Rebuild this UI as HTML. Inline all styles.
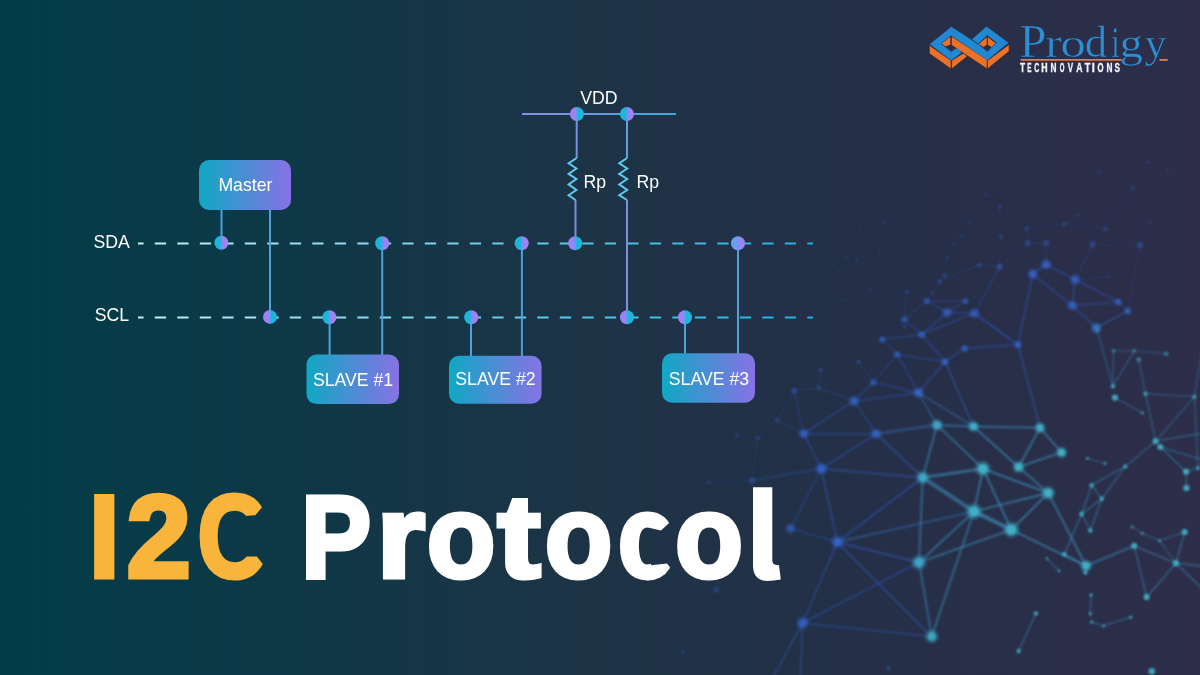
<!DOCTYPE html>
<html><head><meta charset="utf-8"><title>I2C Protocol</title>
<style>
html,body{margin:0;padding:0;}
body{width:1200px;height:675px;overflow:hidden;position:relative;
background:linear-gradient(90deg,#013d47 0%,#0f3847 25%,#1d3346 50%,#262f48 75%,#2e2e4a 100%);
font-family:"Liberation Sans",sans-serif;}
svg{position:absolute;left:0;top:0;will-change:transform;}
</style></head>
<body>
<svg width="1200" height="675" viewBox="0 0 1200 675">
<defs>
<linearGradient id="box" x1="0" y1="0" x2="1" y2="0">
<stop offset="0" stop-color="#10a8c4"/><stop offset="1" stop-color="#8772e4"/></linearGradient>
<linearGradient id="dash" gradientUnits="userSpaceOnUse" x1="138" y1="0" x2="813" y2="0">
<stop offset="0" stop-color="#c4eef6"/><stop offset="1" stop-color="#1cb0e0"/></linearGradient>
<linearGradient id="vdd" gradientUnits="userSpaceOnUse" x1="522" y1="0" x2="676" y2="0">
<stop offset="0" stop-color="#8d8ce6"/><stop offset="1" stop-color="#3aa8d8"/></linearGradient>
<linearGradient id="dCP" x1="0" y1="0" x2="1" y2="0">
<stop offset="0.4" stop-color="#1bb6da"/><stop offset="0.5" stop-color="#4aa4ee"/><stop offset="0.6" stop-color="#9e82f4"/></linearGradient>
<linearGradient id="dPC" x1="0" y1="0" x2="1" y2="0">
<stop offset="0.4" stop-color="#9e82f4"/><stop offset="0.5" stop-color="#4aa4ee"/><stop offset="0.6" stop-color="#1bb6da"/></linearGradient>
<linearGradient id="dBP" x1="0" y1="0" x2="1" y2="0">
<stop offset="0" stop-color="#5aa8f0"/><stop offset="1" stop-color="#a080f2"/></linearGradient>
<filter id="soft" x="-5%" y="-5%" width="110%" height="110%"><feGaussianBlur stdDeviation="0.8"/></filter>
</defs>

<g id="network" filter="url(#soft)">
<line x1="803.7" y1="433.7" x2="876.2" y2="433.7" stroke="rgb(48, 88, 189)" stroke-opacity="0.41" stroke-width="2.0"/>
<line x1="876.2" y1="433.7" x2="937" y2="424.9" stroke="rgb(54, 114, 185)" stroke-opacity="0.45" stroke-width="2.6"/>
<line x1="876.2" y1="433.7" x2="854" y2="401" stroke="rgb(48, 88, 189)" stroke-opacity="0.41" stroke-width="2.0"/>
<line x1="876.2" y1="433.7" x2="922.7" y2="477.6" stroke="rgb(51, 105, 187)" stroke-opacity="0.45" stroke-width="2.0"/>
<line x1="803.7" y1="433.7" x2="854" y2="401" stroke="rgb(48, 88, 189)" stroke-opacity="0.41" stroke-width="2.0"/>
<line x1="803.7" y1="433.7" x2="821.4" y2="468.6" stroke="rgb(48, 88, 189)" stroke-opacity="0.41" stroke-width="2.0"/>
<line x1="821.4" y1="468.6" x2="922.7" y2="477.6" stroke="rgb(48, 88, 189)" stroke-opacity="0.45" stroke-width="2.2"/>
<line x1="821.4" y1="468.6" x2="876.2" y2="433.7" stroke="rgb(48, 88, 189)" stroke-opacity="0.45" stroke-width="2.0"/>
<line x1="854" y1="401" x2="873.3" y2="382.4" stroke="rgb(48, 88, 189)" stroke-opacity="0.38" stroke-width="2.0"/>
<line x1="854" y1="401" x2="918.6" y2="392.8" stroke="rgb(48, 88, 189)" stroke-opacity="0.41" stroke-width="2.0"/>
<line x1="873.3" y1="382.4" x2="918.6" y2="392.8" stroke="rgb(48, 88, 189)" stroke-opacity="0.38" stroke-width="2.0"/>
<line x1="918.6" y1="392.8" x2="937" y2="424.9" stroke="rgb(53, 113, 186)" stroke-opacity="0.45" stroke-width="2.0"/>
<line x1="897" y1="354.6" x2="918.6" y2="392.8" stroke="rgb(48, 88, 189)" stroke-opacity="0.38" stroke-width="2.0"/>
<line x1="897" y1="354.6" x2="873.3" y2="382.4" stroke="rgb(48, 88, 189)" stroke-opacity="0.38" stroke-width="1.35"/>
<line x1="882.2" y1="339.5" x2="897" y2="354.6" stroke="rgb(48, 88, 189)" stroke-opacity="0.34" stroke-width="1.35"/>
<line x1="921.6" y1="334.4" x2="945" y2="361.7" stroke="rgb(48, 88, 189)" stroke-opacity="0.41" stroke-width="2.0"/>
<line x1="897" y1="354.6" x2="945" y2="361.7" stroke="rgb(48, 88, 189)" stroke-opacity="0.38" stroke-width="2.0"/>
<line x1="794.2" y1="390.7" x2="803.7" y2="433.7" stroke="rgb(48, 88, 189)" stroke-opacity="0.26" stroke-width="2.0"/>
<line x1="777" y1="420.3" x2="803.7" y2="433.7" stroke="rgb(48, 88, 189)" stroke-opacity="0.19" stroke-width="2.0"/>
<line x1="757.8" y1="438.1" x2="777" y2="420.3" stroke="rgb(48, 88, 189)" stroke-opacity="0.19" stroke-width="1.35"/>
<line x1="737" y1="435.2" x2="757.8" y2="438.1" stroke="rgb(48, 88, 189)" stroke-opacity="0.15" stroke-width="1.35"/>
<line x1="751.8" y1="480.5" x2="821.4" y2="468.6" stroke="rgb(48, 88, 189)" stroke-opacity="0.22" stroke-width="2.0"/>
<line x1="708.9" y1="482.5" x2="751.8" y2="480.5" stroke="rgb(48, 88, 189)" stroke-opacity="0.15" stroke-width="1.35"/>
<line x1="818.5" y1="387.8" x2="854" y2="401" stroke="rgb(48, 88, 189)" stroke-opacity="0.22" stroke-width="2.0"/>
<line x1="820.9" y1="370" x2="818.5" y2="387.8" stroke="rgb(48, 88, 189)" stroke-opacity="0.22" stroke-width="1.35"/>
<line x1="858.5" y1="361.7" x2="873.3" y2="382.4" stroke="rgb(48, 88, 189)" stroke-opacity="0.22" stroke-width="1.35"/>
<line x1="794.2" y1="390.7" x2="818.5" y2="387.8" stroke="rgb(48, 88, 189)" stroke-opacity="0.22" stroke-width="1.35"/>
<line x1="777" y1="420.3" x2="794.2" y2="390.7" stroke="rgb(48, 88, 189)" stroke-opacity="0.19" stroke-width="1.35"/>
<line x1="757.8" y1="438.1" x2="751.8" y2="480.5" stroke="rgb(48, 88, 189)" stroke-opacity="0.19" stroke-width="1.35"/>
<line x1="937" y1="424.9" x2="973.5" y2="426.4" stroke="rgb(58, 134, 182)" stroke-opacity="0.60" stroke-width="2.0"/>
<line x1="973.5" y1="426.4" x2="1040" y2="427.8" stroke="rgb(58, 135, 182)" stroke-opacity="0.64" stroke-width="2.0"/>
<line x1="1040" y1="427.8" x2="1061.6" y2="452.4" stroke="rgb(59, 139, 182)" stroke-opacity="0.64" stroke-width="2.0"/>
<line x1="1040" y1="427.8" x2="1018.6" y2="467" stroke="rgb(59, 139, 182)" stroke-opacity="0.64" stroke-width="2.0"/>
<line x1="1040" y1="427.8" x2="1018" y2="344.8" stroke="rgb(48, 91, 189)" stroke-opacity="0.45" stroke-width="2.0"/>
<line x1="1018.6" y1="467" x2="1061.6" y2="452.4" stroke="rgb(59, 139, 182)" stroke-opacity="0.64" stroke-width="2.0"/>
<line x1="1018.6" y1="467" x2="973.5" y2="426.4" stroke="rgb(59, 139, 182)" stroke-opacity="0.64" stroke-width="2.0"/>
<line x1="1018.6" y1="467" x2="1048.3" y2="493" stroke="rgb(59, 139, 182)" stroke-opacity="0.64" stroke-width="2.0"/>
<line x1="983" y1="468.7" x2="1048.3" y2="493" stroke="rgb(59, 139, 182)" stroke-opacity="0.68" stroke-width="2.0"/>
<line x1="922.7" y1="477.6" x2="983" y2="468.7" stroke="rgb(59, 139, 182)" stroke-opacity="0.60" stroke-width="3.0"/>
<line x1="922.7" y1="477.6" x2="974" y2="511.4" stroke="rgb(59, 139, 182)" stroke-opacity="0.60" stroke-width="4.0"/>
<line x1="974" y1="511.4" x2="1011.3" y2="529.7" stroke="rgb(59, 139, 182)" stroke-opacity="0.68" stroke-width="4.0"/>
<line x1="983" y1="468.7" x2="974" y2="511.4" stroke="rgb(59, 139, 182)" stroke-opacity="0.68" stroke-width="2.0"/>
<line x1="983" y1="468.7" x2="1011.3" y2="529.7" stroke="rgb(59, 139, 182)" stroke-opacity="0.68" stroke-width="2.0"/>
<line x1="937" y1="424.9" x2="922.7" y2="477.6" stroke="rgb(59, 137, 182)" stroke-opacity="0.60" stroke-width="2.0"/>
<line x1="937" y1="424.9" x2="983" y2="468.7" stroke="rgb(59, 139, 182)" stroke-opacity="0.60" stroke-width="2.0"/>
<line x1="918.6" y1="392.8" x2="973.5" y2="426.4" stroke="rgb(54, 116, 185)" stroke-opacity="0.45" stroke-width="2.0"/>
<line x1="945" y1="361.7" x2="918.6" y2="392.8" stroke="rgb(48, 89, 189)" stroke-opacity="0.45" stroke-width="2.0"/>
<line x1="945" y1="361.7" x2="973.5" y2="426.4" stroke="rgb(49, 95, 188)" stroke-opacity="0.45" stroke-width="2.0"/>
<line x1="945" y1="361.7" x2="964.6" y2="348.4" stroke="rgb(48, 88, 189)" stroke-opacity="0.41" stroke-width="2.0"/>
<line x1="964.6" y1="348.4" x2="1018" y2="344.8" stroke="rgb(48, 88, 189)" stroke-opacity="0.41" stroke-width="2.0"/>
<line x1="1048.3" y1="493" x2="974" y2="511.4" stroke="rgb(59, 139, 182)" stroke-opacity="0.68" stroke-width="2.0"/>
<line x1="1048.3" y1="493" x2="1086" y2="565.8" stroke="rgb(59, 139, 182)" stroke-opacity="0.64" stroke-width="2.0"/>
<line x1="837.3" y1="542.1" x2="790.5" y2="528.6" stroke="rgb(48, 88, 189)" stroke-opacity="0.34" stroke-width="2.0"/>
<line x1="837.3" y1="542.1" x2="919" y2="562.4" stroke="rgb(48, 89, 189)" stroke-opacity="0.49" stroke-width="2.4"/>
<line x1="837.3" y1="542.1" x2="931.8" y2="636.6" stroke="rgb(48, 91, 189)" stroke-opacity="0.49" stroke-width="2.0"/>
<line x1="837.3" y1="542.1" x2="802.6" y2="623" stroke="rgb(48, 88, 189)" stroke-opacity="0.41" stroke-width="2.0"/>
<line x1="821.4" y1="468.6" x2="837.3" y2="542.1" stroke="rgb(48, 88, 189)" stroke-opacity="0.45" stroke-width="2.0"/>
<line x1="837.3" y1="542.1" x2="922.7" y2="477.6" stroke="rgb(48, 90, 189)" stroke-opacity="0.49" stroke-width="2.0"/>
<line x1="802.6" y1="623" x2="919" y2="562.4" stroke="rgb(48, 88, 189)" stroke-opacity="0.41" stroke-width="2.0"/>
<line x1="802.6" y1="623" x2="931.8" y2="636.6" stroke="rgb(48, 88, 189)" stroke-opacity="0.41" stroke-width="2.0"/>
<line x1="919" y1="562.4" x2="931.8" y2="636.6" stroke="rgb(59, 136, 182)" stroke-opacity="0.56" stroke-width="2.0"/>
<line x1="919" y1="562.4" x2="922.7" y2="477.6" stroke="rgb(58, 133, 182)" stroke-opacity="0.60" stroke-width="2.0"/>
<line x1="919" y1="562.4" x2="974" y2="511.4" stroke="rgb(59, 139, 182)" stroke-opacity="0.60" stroke-width="2.0"/>
<line x1="931.8" y1="636.6" x2="974" y2="511.4" stroke="rgb(59, 139, 182)" stroke-opacity="0.56" stroke-width="2.0"/>
<line x1="790.5" y1="528.6" x2="821.4" y2="468.6" stroke="rgb(48, 88, 189)" stroke-opacity="0.34" stroke-width="2.0"/>
<line x1="837.3" y1="542.1" x2="974" y2="511.4" stroke="rgb(54, 115, 185)" stroke-opacity="0.49" stroke-width="2.0"/>
<line x1="1011.3" y1="529.7" x2="1048.3" y2="493" stroke="rgb(59, 139, 182)" stroke-opacity="0.68" stroke-width="2.0"/>
<line x1="1011.3" y1="529.7" x2="919" y2="562.4" stroke="rgb(59, 139, 182)" stroke-opacity="0.60" stroke-width="2.0"/>
<line x1="1011.3" y1="529.7" x2="1086" y2="565.8" stroke="rgb(59, 139, 182)" stroke-opacity="0.64" stroke-width="2.0"/>
<line x1="1064.3" y1="554.5" x2="1086" y2="565.8" stroke="rgb(59, 139, 182)" stroke-opacity="0.60" stroke-width="2.0"/>
<line x1="1064.3" y1="554.5" x2="1081.6" y2="514" stroke="rgb(59, 139, 182)" stroke-opacity="0.60" stroke-width="1.35"/>
<line x1="1081.6" y1="514" x2="1091.7" y2="485.2" stroke="rgb(59, 139, 182)" stroke-opacity="0.60" stroke-width="1.35"/>
<line x1="1091.7" y1="485.2" x2="1101.8" y2="498.8" stroke="rgb(59, 139, 182)" stroke-opacity="0.60" stroke-width="1.35"/>
<line x1="1101.8" y1="498.8" x2="1090.3" y2="530.5" stroke="rgb(59, 139, 182)" stroke-opacity="0.60" stroke-width="1.35"/>
<line x1="1081.6" y1="514" x2="1101.8" y2="498.8" stroke="rgb(59, 139, 182)" stroke-opacity="0.60" stroke-width="1.35"/>
<line x1="1081.6" y1="514" x2="1090.3" y2="530.5" stroke="rgb(59, 139, 182)" stroke-opacity="0.60" stroke-width="1.35"/>
<line x1="1086" y1="565.8" x2="1134.2" y2="545.8" stroke="rgb(59, 139, 182)" stroke-opacity="0.60" stroke-width="2.0"/>
<line x1="1047" y1="558.5" x2="1059" y2="571" stroke="rgb(59, 139, 182)" stroke-opacity="0.45" stroke-width="1.35"/>
<line x1="1134.2" y1="545.8" x2="1146.6" y2="597" stroke="rgb(59, 139, 182)" stroke-opacity="0.60" stroke-width="1.35"/>
<line x1="1134.2" y1="545.8" x2="1176" y2="563.2" stroke="rgb(59, 139, 182)" stroke-opacity="0.60" stroke-width="1.35"/>
<line x1="1146.6" y1="597" x2="1176" y2="563.2" stroke="rgb(59, 139, 182)" stroke-opacity="0.60" stroke-width="1.35"/>
<line x1="1176" y1="563.2" x2="1184.7" y2="532" stroke="rgb(59, 139, 182)" stroke-opacity="0.60" stroke-width="1.35"/>
<line x1="1159.6" y1="540.6" x2="1184.7" y2="532" stroke="rgb(59, 139, 182)" stroke-opacity="0.45" stroke-width="1.35"/>
<line x1="1132.1" y1="526.8" x2="1142.2" y2="533.4" stroke="rgb(59, 139, 182)" stroke-opacity="0.45" stroke-width="1.35"/>
<line x1="1142.2" y1="533.4" x2="1159.6" y2="540.6" stroke="rgb(59, 139, 182)" stroke-opacity="0.45" stroke-width="1.35"/>
<line x1="1159.6" y1="540.6" x2="1176" y2="563.2" stroke="rgb(59, 139, 182)" stroke-opacity="0.45" stroke-width="1.35"/>
<line x1="1091.1" y1="595" x2="1090.3" y2="613.7" stroke="rgb(59, 139, 182)" stroke-opacity="0.52" stroke-width="1.35"/>
<line x1="1091.7" y1="622" x2="1103.8" y2="625.8" stroke="rgb(59, 139, 182)" stroke-opacity="0.52" stroke-width="1.35"/>
<line x1="1103.8" y1="625.8" x2="1130.7" y2="617.2" stroke="rgb(59, 139, 182)" stroke-opacity="0.52" stroke-width="1.35"/>
<line x1="1036" y1="613.4" x2="1018.7" y2="651" stroke="rgb(59, 139, 182)" stroke-opacity="0.56" stroke-width="1.35"/>
<line x1="1097.2" y1="330.6" x2="1112.9" y2="386.3" stroke="rgb(58, 131, 183)" stroke-opacity="0.45" stroke-width="1.35"/>
<line x1="1113.5" y1="350.8" x2="1112.9" y2="386.3" stroke="rgb(59, 135, 182)" stroke-opacity="0.45" stroke-width="1.35"/>
<line x1="1134.2" y1="350.8" x2="1112.9" y2="386.3" stroke="rgb(59, 136, 182)" stroke-opacity="0.45" stroke-width="1.35"/>
<line x1="1113.5" y1="350.8" x2="1134.2" y2="350.8" stroke="rgb(57, 128, 183)" stroke-opacity="0.45" stroke-width="1.35"/>
<line x1="1134.2" y1="350.8" x2="1166.2" y2="353.7" stroke="rgb(57, 129, 183)" stroke-opacity="0.41" stroke-width="1.35"/>
<line x1="1138.7" y1="359.6" x2="1145.5" y2="393.7" stroke="rgb(59, 138, 182)" stroke-opacity="0.45" stroke-width="1.35"/>
<line x1="1145.5" y1="393.7" x2="1155.6" y2="441.2" stroke="rgb(59, 139, 182)" stroke-opacity="0.52" stroke-width="1.35"/>
<line x1="1145.5" y1="393.7" x2="1194.4" y2="396.7" stroke="rgb(59, 139, 182)" stroke-opacity="0.45" stroke-width="1.35"/>
<line x1="1155.6" y1="441.2" x2="1194.4" y2="396.7" stroke="rgb(59, 139, 182)" stroke-opacity="0.45" stroke-width="1.35"/>
<line x1="1155.6" y1="441.2" x2="1125.3" y2="466.4" stroke="rgb(59, 139, 182)" stroke-opacity="0.52" stroke-width="1.35"/>
<line x1="1125.3" y1="466.4" x2="1091.7" y2="485.2" stroke="rgb(59, 139, 182)" stroke-opacity="0.52" stroke-width="1.35"/>
<line x1="1125.3" y1="466.4" x2="1101.8" y2="498.8" stroke="rgb(59, 139, 182)" stroke-opacity="0.52" stroke-width="1.35"/>
<line x1="1087.4" y1="458.4" x2="1105.2" y2="463.4" stroke="rgb(59, 139, 182)" stroke-opacity="0.45" stroke-width="1.35"/>
<line x1="1115" y1="397.6" x2="1142.5" y2="413" stroke="rgb(59, 139, 182)" stroke-opacity="0.45" stroke-width="1.35"/>
<line x1="1186.1" y1="471.7" x2="1186.4" y2="488" stroke="rgb(59, 139, 182)" stroke-opacity="0.60" stroke-width="1.35"/>
<line x1="1186.1" y1="471.7" x2="1198" y2="468" stroke="rgb(59, 139, 182)" stroke-opacity="0.45" stroke-width="1.35"/>
<line x1="1160.3" y1="447.1" x2="1186.1" y2="471.7" stroke="rgb(59, 139, 182)" stroke-opacity="0.60" stroke-width="1.35"/>
<line x1="1032.7" y1="274.1" x2="1046.2" y2="264.4" stroke="rgb(48, 88, 189)" stroke-opacity="0.45" stroke-width="2.0"/>
<line x1="1032.7" y1="274.1" x2="1018" y2="344.8" stroke="rgb(48, 88, 189)" stroke-opacity="0.45" stroke-width="2.0"/>
<line x1="1032.7" y1="274.1" x2="1072.2" y2="305.6" stroke="rgb(48, 88, 189)" stroke-opacity="0.41" stroke-width="2.0"/>
<line x1="1046.2" y1="264.4" x2="1075" y2="279.7" stroke="rgb(48, 88, 189)" stroke-opacity="0.41" stroke-width="2.0"/>
<line x1="974.5" y1="313.3" x2="1018" y2="344.8" stroke="rgb(48, 88, 189)" stroke-opacity="0.38" stroke-width="2.0"/>
<line x1="974.5" y1="313.3" x2="999.7" y2="266.8" stroke="rgb(48, 88, 189)" stroke-opacity="0.30" stroke-width="2.0"/>
<line x1="974.5" y1="313.3" x2="947.1" y2="312.5" stroke="rgb(48, 88, 189)" stroke-opacity="0.38" stroke-width="2.0"/>
<line x1="947.1" y1="312.5" x2="926.8" y2="301" stroke="rgb(48, 88, 189)" stroke-opacity="0.34" stroke-width="2.0"/>
<line x1="947.1" y1="312.5" x2="965.5" y2="301" stroke="rgb(48, 88, 189)" stroke-opacity="0.34" stroke-width="2.0"/>
<line x1="926.8" y1="301" x2="965.5" y2="301" stroke="rgb(48, 88, 189)" stroke-opacity="0.34" stroke-width="1.35"/>
<line x1="926.8" y1="301" x2="904.4" y2="319.4" stroke="rgb(48, 88, 189)" stroke-opacity="0.34" stroke-width="1.35"/>
<line x1="904.4" y1="319.4" x2="921.6" y2="334.4" stroke="rgb(48, 88, 189)" stroke-opacity="0.34" stroke-width="2.0"/>
<line x1="921.6" y1="334.4" x2="947.1" y2="312.5" stroke="rgb(48, 88, 189)" stroke-opacity="0.38" stroke-width="2.0"/>
<line x1="921.6" y1="334.4" x2="974.5" y2="313.3" stroke="rgb(48, 88, 189)" stroke-opacity="0.38" stroke-width="2.0"/>
<line x1="921.6" y1="334.4" x2="882.2" y2="339.5" stroke="rgb(48, 88, 189)" stroke-opacity="0.34" stroke-width="2.0"/>
<line x1="904.4" y1="319.4" x2="906.8" y2="291.2" stroke="rgb(48, 88, 189)" stroke-opacity="0.22" stroke-width="1.35"/>
<line x1="906.8" y1="291.2" x2="926.8" y2="301" stroke="rgb(48, 88, 189)" stroke-opacity="0.22" stroke-width="1.35"/>
<line x1="926.8" y1="301" x2="939.8" y2="281.5" stroke="rgb(48, 88, 189)" stroke-opacity="0.26" stroke-width="1.35"/>
<line x1="939.8" y1="281.5" x2="947.1" y2="258.7" stroke="rgb(48, 88, 189)" stroke-opacity="0.13" stroke-width="1.35"/>
<line x1="947.1" y1="258.7" x2="953.3" y2="243.6" stroke="rgb(48, 88, 189)" stroke-opacity="0.13" stroke-width="1.35"/>
<line x1="953.3" y1="243.6" x2="961.3" y2="236.7" stroke="rgb(48, 88, 189)" stroke-opacity="0.13" stroke-width="1.35"/>
<line x1="961.3" y1="236.7" x2="969.6" y2="221.6" stroke="rgb(48, 88, 189)" stroke-opacity="0.11" stroke-width="1.35"/>
<line x1="999.7" y1="266.8" x2="1001" y2="236.7" stroke="rgb(48, 88, 189)" stroke-opacity="0.16" stroke-width="1.35"/>
<line x1="1001" y1="236.7" x2="999.7" y2="206.9" stroke="rgb(48, 88, 189)" stroke-opacity="0.13" stroke-width="1.35"/>
<line x1="999.7" y1="206.9" x2="986.3" y2="194.7" stroke="rgb(48, 88, 189)" stroke-opacity="0.11" stroke-width="1.35"/>
<line x1="999.7" y1="266.8" x2="1027.8" y2="243.1" stroke="rgb(48, 88, 189)" stroke-opacity="0.18" stroke-width="1.35"/>
<line x1="939.8" y1="281.5" x2="979.4" y2="265.1" stroke="rgb(48, 88, 189)" stroke-opacity="0.26" stroke-width="1.35"/>
<line x1="979.4" y1="265.1" x2="999.7" y2="266.8" stroke="rgb(48, 88, 189)" stroke-opacity="0.26" stroke-width="1.35"/>
<line x1="1027.8" y1="243.1" x2="1026.6" y2="228.4" stroke="rgb(48, 88, 189)" stroke-opacity="0.16" stroke-width="1.35"/>
<line x1="1027.8" y1="243.1" x2="1046.2" y2="243.1" stroke="rgb(48, 88, 189)" stroke-opacity="0.18" stroke-width="1.35"/>
<line x1="1046.2" y1="243.1" x2="1046.2" y2="264.4" stroke="rgb(48, 88, 189)" stroke-opacity="0.18" stroke-width="2.0"/>
<line x1="1026.6" y1="228.4" x2="1064.5" y2="224" stroke="rgb(48, 88, 189)" stroke-opacity="0.16" stroke-width="1.35"/>
<line x1="1075" y1="279.7" x2="1072.2" y2="305.6" stroke="rgb(48, 88, 189)" stroke-opacity="0.41" stroke-width="2.0"/>
<line x1="1072.2" y1="305.6" x2="1096.3" y2="327.8" stroke="rgb(49, 94, 188)" stroke-opacity="0.41" stroke-width="2.0"/>
<line x1="1075" y1="279.7" x2="1118.5" y2="301.9" stroke="rgb(48, 89, 189)" stroke-opacity="0.41" stroke-width="2.0"/>
<line x1="1118.5" y1="301.9" x2="1127.8" y2="311" stroke="rgb(49, 92, 189)" stroke-opacity="0.41" stroke-width="1.35"/>
<line x1="1127.8" y1="311" x2="1096.3" y2="327.8" stroke="rgb(50, 98, 188)" stroke-opacity="0.41" stroke-width="2.0"/>
<line x1="1072.2" y1="305.6" x2="1118.5" y2="301.9" stroke="rgb(48, 91, 189)" stroke-opacity="0.41" stroke-width="2.0"/>
<line x1="1092.6" y1="244.4" x2="1075" y2="279.7" stroke="rgb(48, 88, 189)" stroke-opacity="0.18" stroke-width="2.0"/>
<line x1="1105.6" y1="229" x2="1092.6" y2="244.4" stroke="rgb(48, 88, 189)" stroke-opacity="0.16" stroke-width="1.35"/>
<line x1="1105.6" y1="229" x2="1064.5" y2="224" stroke="rgb(48, 88, 189)" stroke-opacity="0.16" stroke-width="1.35"/>
<line x1="1140" y1="245.2" x2="1092.6" y2="244.4" stroke="rgb(48, 88, 189)" stroke-opacity="0.18" stroke-width="1.35"/>
<line x1="1140" y1="245.2" x2="1127.8" y2="311" stroke="rgb(48, 88, 189)" stroke-opacity="0.18" stroke-width="1.35"/>
<line x1="1064.5" y1="224" x2="1077.8" y2="215.6" stroke="rgb(48, 88, 189)" stroke-opacity="0.13" stroke-width="1.35"/>
<line x1="1105.6" y1="229" x2="1133" y2="187.8" stroke="rgb(48, 88, 189)" stroke-opacity="0.13" stroke-width="1.35"/>
<line x1="1133" y1="187.8" x2="1140" y2="245.2" stroke="rgb(48, 88, 189)" stroke-opacity="0.13" stroke-width="1.35"/>
<line x1="1147.8" y1="162.4" x2="1167.4" y2="170.5" stroke="rgb(48, 88, 189)" stroke-opacity="0.11" stroke-width="1.35"/>
<line x1="1098.9" y1="172.2" x2="1105.6" y2="229" stroke="rgb(48, 88, 189)" stroke-opacity="0.11" stroke-width="1.35"/>
<line x1="1149.4" y1="222.7" x2="1140" y2="245.2" stroke="rgb(48, 88, 189)" stroke-opacity="0.11" stroke-width="1.35"/>
<line x1="1108.7" y1="276.5" x2="1075" y2="279.7" stroke="rgb(48, 88, 189)" stroke-opacity="0.13" stroke-width="2.0"/>
<line x1="883.6" y1="222" x2="880" y2="250" stroke="rgb(48, 88, 189)" stroke-opacity="0.07" stroke-width="1.35"/>
<line x1="856.7" y1="260.7" x2="846.9" y2="257.7" stroke="rgb(48, 88, 189)" stroke-opacity="0.06" stroke-width="1.35"/>
<line x1="846.9" y1="257.7" x2="838.3" y2="271.7" stroke="rgb(48, 88, 189)" stroke-opacity="0.06" stroke-width="1.35"/>
<line x1="838.3" y1="271.7" x2="827.3" y2="272.9" stroke="rgb(48, 88, 189)" stroke-opacity="0.06" stroke-width="1.35"/>
<line x1="856.7" y1="260.7" x2="880" y2="250" stroke="rgb(48, 88, 189)" stroke-opacity="0.07" stroke-width="1.35"/>
<line x1="860" y1="230" x2="856.7" y2="260.7" stroke="rgb(48, 88, 189)" stroke-opacity="0.06" stroke-width="1.35"/>
<line x1="845" y1="300" x2="870" y2="290" stroke="rgb(48, 88, 189)" stroke-opacity="0.06" stroke-width="1.35"/>
<line x1="870" y1="290" x2="906.8" y2="291.2" stroke="rgb(48, 88, 189)" stroke-opacity="0.07" stroke-width="1.35"/>
<line x1="830" y1="330" x2="845" y2="300" stroke="rgb(48, 88, 189)" stroke-opacity="0.06" stroke-width="1.35"/>
<line x1="810" y1="300" x2="830" y2="330" stroke="rgb(48, 88, 189)" stroke-opacity="0.04" stroke-width="1.35"/>
<line x1="882.3" y1="340.1" x2="882.2" y2="339.5" stroke="rgb(48, 88, 189)" stroke-opacity="0.11" stroke-width="1.35"/>
<line x1="882.3" y1="340.1" x2="904.4" y2="319.4" stroke="rgb(48, 88, 189)" stroke-opacity="0.11" stroke-width="1.35"/>
<line x1="1018" y1="344.8" x2="974.5" y2="313.3" stroke="rgb(48, 88, 189)" stroke-opacity="0.38" stroke-width="2.0"/>
<line x1="1194.4" y1="396.7" x2="1198" y2="468" stroke="rgb(59, 139, 182)" stroke-opacity="0.45" stroke-width="1.35"/>
<line x1="1176" y1="563.2" x2="1210" y2="596" stroke="rgb(59, 139, 182)" stroke-opacity="0.60" stroke-width="1.35"/>
<line x1="1176" y1="563.2" x2="1210" y2="567" stroke="rgb(59, 139, 182)" stroke-opacity="0.60" stroke-width="1.35"/>
<line x1="1155.6" y1="441.2" x2="1210" y2="432" stroke="rgb(59, 139, 182)" stroke-opacity="0.60" stroke-width="1.35"/>
<line x1="1160.3" y1="447.1" x2="1210" y2="462" stroke="rgb(59, 139, 182)" stroke-opacity="0.60" stroke-width="1.35"/>
<line x1="1194.4" y1="396.7" x2="1210" y2="300" stroke="rgb(57, 127, 183)" stroke-opacity="0.45" stroke-width="1.35"/>
<line x1="821.4" y1="468.6" x2="751.8" y2="480.5" stroke="rgb(48, 88, 189)" stroke-opacity="0.22" stroke-width="2.0"/>
<line x1="802.6" y1="623" x2="766" y2="690" stroke="rgb(48, 88, 189)" stroke-opacity="0.41" stroke-width="2.0"/>
<line x1="802.6" y1="623" x2="800" y2="690" stroke="rgb(48, 88, 189)" stroke-opacity="0.41" stroke-width="2.0"/>
<circle cx="803.7" cy="433.7" r="6.00" fill="rgb(55, 105, 214)" fill-opacity="0.19"/>
<circle cx="803.7" cy="433.7" r="3.75" fill="rgb(55, 105, 214)" fill-opacity="0.63"/>
<circle cx="876.2" cy="433.7" r="6.00" fill="rgb(55, 106, 214)" fill-opacity="0.21"/>
<circle cx="876.2" cy="433.7" r="3.75" fill="rgb(55, 106, 214)" fill-opacity="0.69"/>
<circle cx="937" cy="424.9" r="6.40" fill="rgb(64, 167, 200)" fill-opacity="0.28"/>
<circle cx="937" cy="424.9" r="4.00" fill="rgb(64, 167, 200)" fill-opacity="0.92"/>
<circle cx="854" cy="401" r="6.00" fill="rgb(55, 105, 214)" fill-opacity="0.19"/>
<circle cx="854" cy="401" r="3.75" fill="rgb(55, 105, 214)" fill-opacity="0.63"/>
<circle cx="873.3" cy="382.4" r="3.25" fill="rgb(55, 105, 214)" fill-opacity="0.57"/>
<circle cx="918.6" cy="392.8" r="6.00" fill="rgb(56, 112, 213)" fill-opacity="0.21"/>
<circle cx="918.6" cy="392.8" r="3.75" fill="rgb(56, 112, 213)" fill-opacity="0.69"/>
<circle cx="897" cy="354.6" r="3.25" fill="rgb(55, 105, 214)" fill-opacity="0.57"/>
<circle cx="882.2" cy="339.5" r="3.25" fill="rgb(55, 105, 214)" fill-opacity="0.52"/>
<circle cx="921.6" cy="334.4" r="3.50" fill="rgb(55, 105, 214)" fill-opacity="0.63"/>
<circle cx="945" cy="361.7" r="3.50" fill="rgb(55, 105, 214)" fill-opacity="0.69"/>
<circle cx="858.5" cy="361.7" r="2.20" fill="rgb(55, 105, 214)" fill-opacity="0.34"/>
<circle cx="820.9" cy="370" r="2.20" fill="rgb(55, 105, 214)" fill-opacity="0.34"/>
<circle cx="818.5" cy="387.8" r="2.20" fill="rgb(55, 105, 214)" fill-opacity="0.34"/>
<circle cx="794.2" cy="390.7" r="3.00" fill="rgb(55, 105, 214)" fill-opacity="0.40"/>
<circle cx="777" cy="420.3" r="2.20" fill="rgb(55, 105, 214)" fill-opacity="0.29"/>
<circle cx="757.8" cy="438.1" r="2.20" fill="rgb(55, 105, 214)" fill-opacity="0.29"/>
<circle cx="737" cy="435.2" r="2.20" fill="rgb(55, 105, 214)" fill-opacity="0.23"/>
<circle cx="821.4" cy="468.6" r="7.00" fill="rgb(55, 105, 214)" fill-opacity="0.21"/>
<circle cx="821.4" cy="468.6" r="4.38" fill="rgb(55, 105, 214)" fill-opacity="0.69"/>
<circle cx="922.7" cy="477.6" r="7.20" fill="rgb(64, 168, 199)" fill-opacity="0.28"/>
<circle cx="922.7" cy="477.6" r="4.50" fill="rgb(64, 168, 199)" fill-opacity="0.92"/>
<circle cx="751.8" cy="480.5" r="3.25" fill="rgb(55, 105, 214)" fill-opacity="0.34"/>
<circle cx="708.9" cy="482.5" r="2.20" fill="rgb(55, 105, 214)" fill-opacity="0.23"/>
<circle cx="790.5" cy="528.6" r="6.00" fill="rgb(55, 105, 214)" fill-opacity="0.16"/>
<circle cx="790.5" cy="528.6" r="3.75" fill="rgb(55, 105, 214)" fill-opacity="0.52"/>
<circle cx="837.3" cy="542.1" r="7.20" fill="rgb(55, 105, 214)" fill-opacity="0.23"/>
<circle cx="837.3" cy="542.1" r="4.50" fill="rgb(55, 105, 214)" fill-opacity="0.75"/>
<circle cx="919" cy="562.4" r="8.00" fill="rgb(64, 165, 200)" fill-opacity="0.28"/>
<circle cx="919" cy="562.4" r="5.00" fill="rgb(64, 165, 200)" fill-opacity="0.92"/>
<circle cx="802.6" cy="623" r="7.20" fill="rgb(55, 105, 214)" fill-opacity="0.19"/>
<circle cx="802.6" cy="623" r="4.50" fill="rgb(55, 105, 214)" fill-opacity="0.63"/>
<circle cx="931.8" cy="636.6" r="7.20" fill="rgb(65, 173, 198)" fill-opacity="0.26"/>
<circle cx="931.8" cy="636.6" r="4.50" fill="rgb(65, 173, 198)" fill-opacity="0.86"/>
<circle cx="888.4" cy="668.4" r="1.65" fill="rgb(56, 112, 213)" fill-opacity="0.57"/>
<circle cx="964.6" cy="348.4" r="3.25" fill="rgb(55, 105, 214)" fill-opacity="0.63"/>
<circle cx="1018" cy="344.8" r="3.50" fill="rgb(55, 105, 214)" fill-opacity="0.69"/>
<circle cx="973.5" cy="426.4" r="6.00" fill="rgb(64, 169, 199)" fill-opacity="0.30"/>
<circle cx="973.5" cy="426.4" r="3.75" fill="rgb(64, 169, 199)" fill-opacity="0.98"/>
<circle cx="1040" cy="427.8" r="6.00" fill="rgb(65, 170, 199)" fill-opacity="0.30"/>
<circle cx="1040" cy="427.8" r="3.75" fill="rgb(65, 170, 199)" fill-opacity="0.98"/>
<circle cx="1061.6" cy="452.4" r="6.00" fill="rgb(65, 175, 198)" fill-opacity="0.30"/>
<circle cx="1061.6" cy="452.4" r="3.75" fill="rgb(65, 175, 198)" fill-opacity="0.98"/>
<circle cx="1018.6" cy="467" r="6.40" fill="rgb(65, 175, 198)" fill-opacity="0.30"/>
<circle cx="1018.6" cy="467" r="4.00" fill="rgb(65, 175, 198)" fill-opacity="0.98"/>
<circle cx="983" cy="468.7" r="8.00" fill="rgb(65, 175, 198)" fill-opacity="0.32"/>
<circle cx="983" cy="468.7" r="5.00" fill="rgb(65, 175, 198)" fill-opacity="1.00"/>
<circle cx="1048.3" cy="493" r="7.20" fill="rgb(65, 175, 198)" fill-opacity="0.32"/>
<circle cx="1048.3" cy="493" r="4.50" fill="rgb(65, 175, 198)" fill-opacity="1.00"/>
<circle cx="974" cy="511.4" r="8.40" fill="rgb(65, 175, 198)" fill-opacity="0.32"/>
<circle cx="974" cy="511.4" r="5.25" fill="rgb(65, 175, 198)" fill-opacity="1.00"/>
<circle cx="1011.3" cy="529.7" r="8.40" fill="rgb(65, 175, 198)" fill-opacity="0.32"/>
<circle cx="1011.3" cy="529.7" r="5.25" fill="rgb(65, 175, 198)" fill-opacity="1.00"/>
<circle cx="1091.7" cy="485.2" r="2.20" fill="rgb(65, 175, 198)" fill-opacity="0.92"/>
<circle cx="1101.8" cy="498.8" r="2.20" fill="rgb(65, 175, 198)" fill-opacity="0.92"/>
<circle cx="1081.6" cy="514" r="2.42" fill="rgb(65, 175, 198)" fill-opacity="0.92"/>
<circle cx="1090.3" cy="530.5" r="2.20" fill="rgb(65, 175, 198)" fill-opacity="0.92"/>
<circle cx="1064.3" cy="554.5" r="2.42" fill="rgb(65, 175, 198)" fill-opacity="0.92"/>
<circle cx="1086" cy="565.8" r="6.40" fill="rgb(65, 175, 198)" fill-opacity="0.30"/>
<circle cx="1086" cy="565.8" r="4.00" fill="rgb(65, 175, 198)" fill-opacity="0.98"/>
<circle cx="1085.4" cy="572.4" r="2.20" fill="rgb(65, 175, 198)" fill-opacity="0.92"/>
<circle cx="1047" cy="558.5" r="1.54" fill="rgb(65, 175, 198)" fill-opacity="0.69"/>
<circle cx="1059" cy="571" r="1.54" fill="rgb(65, 175, 198)" fill-opacity="0.69"/>
<circle cx="1134.2" cy="545.8" r="3.12" fill="rgb(65, 175, 198)" fill-opacity="0.92"/>
<circle cx="1132.1" cy="526.8" r="1.54" fill="rgb(65, 175, 198)" fill-opacity="0.69"/>
<circle cx="1142.2" cy="533.4" r="1.54" fill="rgb(65, 175, 198)" fill-opacity="0.69"/>
<circle cx="1159.6" cy="540.6" r="1.65" fill="rgb(65, 175, 198)" fill-opacity="0.69"/>
<circle cx="1184.7" cy="532" r="3.12" fill="rgb(65, 175, 198)" fill-opacity="0.92"/>
<circle cx="1176" cy="563.2" r="3.12" fill="rgb(65, 175, 198)" fill-opacity="0.92"/>
<circle cx="1146.6" cy="597" r="3.12" fill="rgb(65, 175, 198)" fill-opacity="0.92"/>
<circle cx="1091.1" cy="595" r="1.76" fill="rgb(65, 175, 198)" fill-opacity="0.80"/>
<circle cx="1090.3" cy="613.7" r="1.76" fill="rgb(65, 175, 198)" fill-opacity="0.80"/>
<circle cx="1091.7" cy="622" r="1.65" fill="rgb(65, 175, 198)" fill-opacity="0.80"/>
<circle cx="1103.8" cy="625.8" r="1.65" fill="rgb(65, 175, 198)" fill-opacity="0.80"/>
<circle cx="1130.7" cy="617.2" r="1.65" fill="rgb(65, 175, 198)" fill-opacity="0.80"/>
<circle cx="1036" cy="613.4" r="2.20" fill="rgb(65, 175, 198)" fill-opacity="0.86"/>
<circle cx="1018.7" cy="651" r="2.20" fill="rgb(65, 175, 198)" fill-opacity="0.86"/>
<circle cx="1151.8" cy="671.2" r="3.25" fill="rgb(65, 175, 198)" fill-opacity="0.92"/>
<circle cx="1186.4" cy="488" r="3.12" fill="rgb(65, 175, 198)" fill-opacity="0.92"/>
<circle cx="1113.5" cy="350.8" r="1.76" fill="rgb(63, 159, 201)" fill-opacity="0.69"/>
<circle cx="1134.2" cy="350.8" r="1.76" fill="rgb(63, 160, 201)" fill-opacity="0.69"/>
<circle cx="1166.2" cy="353.7" r="2.20" fill="rgb(64, 163, 200)" fill-opacity="0.63"/>
<circle cx="1138.7" cy="359.6" r="2.20" fill="rgb(64, 167, 199)" fill-opacity="0.69"/>
<circle cx="1097.2" cy="330.6" r="2.20" fill="rgb(59, 131, 208)" fill-opacity="0.69"/>
<circle cx="1112.9" cy="386.3" r="2.20" fill="rgb(65, 173, 198)" fill-opacity="0.86"/>
<circle cx="1115" cy="397.6" r="3.12" fill="rgb(65, 174, 198)" fill-opacity="0.92"/>
<circle cx="1145.5" cy="393.7" r="2.20" fill="rgb(65, 175, 198)" fill-opacity="0.80"/>
<circle cx="1142.5" cy="413" r="1.65" fill="rgb(65, 175, 198)" fill-opacity="0.69"/>
<circle cx="1194.4" cy="396.7" r="2.20" fill="rgb(65, 175, 198)" fill-opacity="0.69"/>
<circle cx="1155.6" cy="441.2" r="3.00" fill="rgb(65, 175, 198)" fill-opacity="0.92"/>
<circle cx="1160.3" cy="447.1" r="3.00" fill="rgb(65, 175, 198)" fill-opacity="0.92"/>
<circle cx="1087.4" cy="458.4" r="1.65" fill="rgb(65, 175, 198)" fill-opacity="0.69"/>
<circle cx="1105.2" cy="463.4" r="1.65" fill="rgb(65, 175, 198)" fill-opacity="0.69"/>
<circle cx="1125.3" cy="466.4" r="2.20" fill="rgb(65, 175, 198)" fill-opacity="0.80"/>
<circle cx="1186.1" cy="471.7" r="3.12" fill="rgb(65, 175, 198)" fill-opacity="0.92"/>
<circle cx="1198" cy="468" r="2.20" fill="rgb(65, 175, 198)" fill-opacity="0.69"/>
<circle cx="1032.7" cy="274.1" r="6.00" fill="rgb(55, 105, 214)" fill-opacity="0.21"/>
<circle cx="1032.7" cy="274.1" r="3.75" fill="rgb(55, 105, 214)" fill-opacity="0.69"/>
<circle cx="1046.2" cy="264.4" r="6.00" fill="rgb(55, 105, 214)" fill-opacity="0.21"/>
<circle cx="1046.2" cy="264.4" r="3.75" fill="rgb(55, 105, 214)" fill-opacity="0.69"/>
<circle cx="1027.8" cy="243.1" r="3.12" fill="rgb(55, 105, 214)" fill-opacity="0.35"/>
<circle cx="1046.2" cy="243.1" r="3.12" fill="rgb(55, 105, 214)" fill-opacity="0.35"/>
<circle cx="1026.6" cy="228.4" r="2.20" fill="rgb(55, 105, 214)" fill-opacity="0.30"/>
<circle cx="1064.5" cy="224" r="2.42" fill="rgb(55, 105, 214)" fill-opacity="0.30"/>
<circle cx="1001" cy="236.7" r="2.20" fill="rgb(55, 105, 214)" fill-opacity="0.30"/>
<circle cx="999.7" cy="206.9" r="2.20" fill="rgb(55, 105, 214)" fill-opacity="0.26"/>
<circle cx="986.3" cy="194.7" r="1.76" fill="rgb(55, 105, 214)" fill-opacity="0.22"/>
<circle cx="999.7" cy="266.8" r="3.12" fill="rgb(55, 105, 214)" fill-opacity="0.46"/>
<circle cx="979.4" cy="265.1" r="2.20" fill="rgb(55, 105, 214)" fill-opacity="0.40"/>
<circle cx="974.5" cy="313.3" r="6.00" fill="rgb(55, 105, 214)" fill-opacity="0.17"/>
<circle cx="974.5" cy="313.3" r="3.75" fill="rgb(55, 105, 214)" fill-opacity="0.57"/>
<circle cx="965.5" cy="301" r="3.12" fill="rgb(55, 105, 214)" fill-opacity="0.52"/>
<circle cx="947.1" cy="312.5" r="6.00" fill="rgb(55, 105, 214)" fill-opacity="0.17"/>
<circle cx="947.1" cy="312.5" r="3.75" fill="rgb(55, 105, 214)" fill-opacity="0.57"/>
<circle cx="926.8" cy="301" r="3.12" fill="rgb(55, 105, 214)" fill-opacity="0.52"/>
<circle cx="939.8" cy="281.5" r="2.20" fill="rgb(55, 105, 214)" fill-opacity="0.40"/>
<circle cx="944.7" cy="275.4" r="2.20" fill="rgb(55, 105, 214)" fill-opacity="0.40"/>
<circle cx="932.5" cy="293" r="1.65" fill="rgb(55, 105, 214)" fill-opacity="0.34"/>
<circle cx="904.4" cy="319.4" r="3.12" fill="rgb(55, 105, 214)" fill-opacity="0.52"/>
<circle cx="904.4" cy="326.2" r="1.65" fill="rgb(55, 105, 214)" fill-opacity="0.40"/>
<circle cx="906.8" cy="291.2" r="1.76" fill="rgb(55, 105, 214)" fill-opacity="0.34"/>
<circle cx="947.1" cy="258.7" r="1.76" fill="rgb(55, 105, 214)" fill-opacity="0.26"/>
<circle cx="961.3" cy="236.7" r="1.76" fill="rgb(55, 105, 214)" fill-opacity="0.26"/>
<circle cx="953.3" cy="243.6" r="1.76" fill="rgb(55, 105, 214)" fill-opacity="0.26"/>
<circle cx="969.6" cy="221.6" r="1.76" fill="rgb(55, 105, 214)" fill-opacity="0.22"/>
<circle cx="1075" cy="279.7" r="6.00" fill="rgb(55, 105, 214)" fill-opacity="0.19"/>
<circle cx="1075" cy="279.7" r="3.75" fill="rgb(55, 105, 214)" fill-opacity="0.63"/>
<circle cx="1072.2" cy="305.6" r="6.00" fill="rgb(55, 107, 214)" fill-opacity="0.19"/>
<circle cx="1072.2" cy="305.6" r="3.75" fill="rgb(55, 107, 214)" fill-opacity="0.63"/>
<circle cx="1118.5" cy="301.9" r="3.25" fill="rgb(55, 109, 213)" fill-opacity="0.63"/>
<circle cx="1127.8" cy="311" r="3.25" fill="rgb(56, 113, 212)" fill-opacity="0.63"/>
<circle cx="1096.3" cy="327.8" r="6.00" fill="rgb(58, 127, 209)" fill-opacity="0.21"/>
<circle cx="1096.3" cy="327.8" r="3.75" fill="rgb(58, 127, 209)" fill-opacity="0.69"/>
<circle cx="1105.6" cy="229" r="2.20" fill="rgb(55, 105, 214)" fill-opacity="0.30"/>
<circle cx="1092.6" cy="244.4" r="3.12" fill="rgb(55, 105, 214)" fill-opacity="0.35"/>
<circle cx="1140" cy="245.2" r="3.12" fill="rgb(55, 105, 214)" fill-opacity="0.35"/>
<circle cx="1077.8" cy="215.6" r="1.76" fill="rgb(55, 105, 214)" fill-opacity="0.26"/>
<circle cx="1133" cy="187.8" r="2.20" fill="rgb(55, 105, 214)" fill-opacity="0.26"/>
<circle cx="1147.8" cy="162.4" r="1.76" fill="rgb(55, 105, 214)" fill-opacity="0.22"/>
<circle cx="1167.4" cy="170.5" r="1.76" fill="rgb(55, 105, 214)" fill-opacity="0.22"/>
<circle cx="1149.4" cy="222.7" r="1.76" fill="rgb(55, 105, 214)" fill-opacity="0.22"/>
<circle cx="1098.9" cy="172.2" r="1.76" fill="rgb(55, 105, 214)" fill-opacity="0.22"/>
<circle cx="1108.7" cy="276.5" r="1.76" fill="rgb(55, 105, 214)" fill-opacity="0.26"/>
<circle cx="883.6" cy="222" r="2.20" fill="rgb(55, 105, 214)" fill-opacity="0.14"/>
<circle cx="856.7" cy="260.7" r="2.20" fill="rgb(55, 105, 214)" fill-opacity="0.14"/>
<circle cx="846.9" cy="257.7" r="1.76" fill="rgb(55, 105, 214)" fill-opacity="0.13"/>
<circle cx="838.3" cy="271.7" r="1.76" fill="rgb(55, 105, 214)" fill-opacity="0.12"/>
<circle cx="827.3" cy="272.9" r="1.76" fill="rgb(55, 105, 214)" fill-opacity="0.12"/>
<circle cx="882.3" cy="340.1" r="2.42" fill="rgb(55, 105, 214)" fill-opacity="0.24"/>
<circle cx="860" cy="230" r="1.76" fill="rgb(55, 105, 214)" fill-opacity="0.12"/>
<circle cx="880" cy="250" r="1.76" fill="rgb(55, 105, 214)" fill-opacity="0.14"/>
<circle cx="845" cy="300" r="1.76" fill="rgb(55, 105, 214)" fill-opacity="0.12"/>
<circle cx="716.3" cy="589.5" r="3.25" fill="rgb(55, 105, 214)" fill-opacity="0.28"/>
<circle cx="683" cy="652" r="2.20" fill="rgb(55, 105, 214)" fill-opacity="0.24"/>
<circle cx="870" cy="290" r="1.76" fill="rgb(55, 105, 214)" fill-opacity="0.14"/>
<circle cx="810" cy="300" r="1.76" fill="rgb(55, 105, 214)" fill-opacity="0.10"/>
<circle cx="830" cy="330" r="1.76" fill="rgb(55, 105, 214)" fill-opacity="0.12"/>
</g>

<!-- bus lines -->
<g fill="none" stroke="url(#dash)" stroke-width="2" stroke-dasharray="11.3 11.2" stroke-dashoffset="5.7">
<line x1="138" y1="243.6" x2="813" y2="243.6"/>
<line x1="138" y1="317.4" x2="813" y2="317.4"/>
</g>
<line x1="522" y1="114" x2="676" y2="114" stroke="url(#vdd)" stroke-width="2.2"/>

<!-- vertical connectors -->
<g stroke="#50a0de" stroke-width="2" fill="none">
<line x1="221.5" y1="209" x2="221.5" y2="243"/>
<line x1="270" y1="209" x2="270" y2="317"/>
<line x1="329.6" y1="317" x2="329.6" y2="356"/>
<line x1="382.2" y1="243" x2="382.2" y2="356"/>
<line x1="471" y1="317" x2="471" y2="357"/>
<line x1="521.9" y1="243" x2="521.9" y2="357"/>
<line x1="685" y1="317" x2="685" y2="354"/>
<line x1="738" y1="243" x2="738" y2="354"/>
<line x1="576.7" y1="114" x2="576.7" y2="158" stroke="#7890e0"/>
<line x1="575.5" y1="200" x2="575.5" y2="243" stroke="#7890dc"/>
<line x1="627" y1="114" x2="627" y2="158" stroke="#58a4dc"/>
<line x1="627" y1="200" x2="627" y2="317" stroke="#7a92e0"/>
</g>
<g stroke="#5ccaee" stroke-width="2" fill="none" stroke-linejoin="miter">
<polyline points="576.7,158 568.6,163.3 576.4,168.5 568.6,173.9 576.4,179 568.6,184.4 576.4,190 568.6,195.2 575.5,200"/>
<polyline points="627,158 619.2,163.3 627.2,168.5 619.2,173.9 627.2,179 619.2,184.4 627.2,190 619.2,195.2 627,200"/>
</g>

<!-- boxes -->
<rect x="199" y="160" width="92" height="50" rx="10" fill="url(#box)"/>
<rect x="306.5" y="354.6" width="92.5" height="49.5" rx="10" fill="url(#box)"/>
<rect x="449" y="355.8" width="92.6" height="48" rx="10" fill="url(#box)"/>
<rect x="662" y="353.3" width="93" height="49.4" rx="10" fill="url(#box)"/>

<!-- dots -->
<g>
<circle cx="221.4" cy="242.8" r="7" fill="url(#dCP)"/>
<circle cx="382.2" cy="243.3" r="7" fill="url(#dCP)"/>
<circle cx="521.7" cy="243.3" r="7" fill="url(#dCP)"/>
<circle cx="575.2" cy="243.3" r="7" fill="url(#dPC)"/>
<circle cx="738" cy="243.3" r="7" fill="url(#dBP)"/>
<circle cx="270" cy="316.9" r="7" fill="url(#dPC)"/>
<circle cx="329.4" cy="317.3" r="7" fill="url(#dCP)"/>
<circle cx="471.2" cy="317.3" r="7" fill="url(#dCP)"/>
<circle cx="627" cy="317.3" r="7" fill="url(#dPC)"/>
<circle cx="685" cy="317.3" r="7" fill="url(#dPC)"/>
<circle cx="576.9" cy="114" r="7" fill="url(#dPC)"/>
<circle cx="626.9" cy="114" r="7" fill="url(#dCP)"/>
</g>

<!-- small labels -->
<g font-family="Liberation Sans, sans-serif" font-size="17.7" fill="#fff">
<text x="93.5" y="247.6">SDA</text>
<text x="94.8" y="321.3">SCL</text>
<text x="218.4" y="191">Master</text>
<text x="312.9" y="385.5">SLAVE #1</text>
<text x="455.3" y="385">SLAVE #2</text>
<text x="668.8" y="384.8">SLAVE #3</text>
<text x="580.2" y="103.8">VDD</text>
<text x="583.4" y="188">Rp</text>
<text x="636.4" y="188">Rp</text>
</g>

<!-- title -->
<mask id="mC" maskUnits="userSpaceOnUse" x="180" y="470" width="110" height="130"><rect x="180" y="470" width="110" height="130" fill="#fff"/>
<polygon points="244,516 255.3,515.3 266.5,502 280,502 280,571 267.5,570 256.9,556.5 244,556.5" fill="#000"/></mask>
<mask id="mc" maskUnits="userSpaceOnUse" x="600" y="480" width="100" height="120"><rect x="600" y="480" width="100" height="120" fill="#fff"/>
<polygon points="651,528.2 661,530.5 674,518.5 690,518.5 690,574 674.5,573 667,563.5 651,565.3" fill="#000"/></mask>
<text transform="translate(89.20,576.80) scale(0.9280,1)" font-family="Liberation Sans, sans-serif" font-weight="bold" font-size="116.38" fill="#f9b43b" stroke="#f9b43b" stroke-width="5.0" stroke-linejoin="miter" stroke-miterlimit="2.5">I</text>
<text transform="translate(126.64,576.80) scale(0.9891,1)" font-family="Liberation Sans, sans-serif" font-weight="bold" font-size="116.38" fill="#f9b43b" stroke="#f9b43b" stroke-width="5.0" stroke-linejoin="miter" stroke-miterlimit="2.5">2</text>
<g mask="url(#mC)"><text transform="translate(197.82,576.80) scale(0.8249,1)" font-family="Liberation Sans, sans-serif" font-weight="bold" font-size="116.38" fill="#f9b43b" stroke="#f9b43b" stroke-width="5.0" stroke-linejoin="miter" stroke-miterlimit="2.5">C</text></g>
<text transform="translate(301.35,576.80) scale(0.8986,1)" font-family="Liberation Sans, sans-serif" font-weight="bold" font-size="116.38" fill="#ffffff" stroke="#ffffff" stroke-width="5.0" stroke-linejoin="miter" stroke-miterlimit="2.5">P</text>
<text transform="translate(376.95,576.80) scale(1.0566,1)" font-family="Liberation Sans, sans-serif" font-weight="bold" font-size="116.38" fill="#ffffff" stroke="#ffffff" stroke-width="5.0" stroke-linejoin="miter" stroke-miterlimit="2.5">r</text>
<text transform="translate(426.93,576.80) scale(0.9598,1)" font-family="Liberation Sans, sans-serif" font-weight="bold" font-size="116.38" fill="#ffffff" stroke="#ffffff" stroke-width="5.0" stroke-linejoin="miter" stroke-miterlimit="2.5">o</text>
<text transform="translate(497.77,576.80) scale(1.1004,1)" font-family="Liberation Sans, sans-serif" font-weight="bold" font-size="116.38" fill="#ffffff" stroke="#ffffff" stroke-width="5.0" stroke-linejoin="miter" stroke-miterlimit="2.5">t</text>
<text transform="translate(544.96,576.80) scale(0.9448,1)" font-family="Liberation Sans, sans-serif" font-weight="bold" font-size="116.38" fill="#ffffff" stroke="#ffffff" stroke-width="5.0" stroke-linejoin="miter" stroke-miterlimit="2.5">o</text>
<g mask="url(#mc)"><text transform="translate(618.13,576.80) scale(0.8675,1)" font-family="Liberation Sans, sans-serif" font-weight="bold" font-size="116.38" fill="#ffffff" stroke="#ffffff" stroke-width="5.0" stroke-linejoin="miter" stroke-miterlimit="2.5">c</text></g>
<text transform="translate(675.25,576.80) scale(0.9508,1)" font-family="Liberation Sans, sans-serif" font-weight="bold" font-size="116.38" fill="#ffffff" stroke="#ffffff" stroke-width="5.0" stroke-linejoin="miter" stroke-miterlimit="2.5">o</text>
<path d="M753 487.3 H772.3 V561.5 Q773 564.5 776 565 L779 565.2 L780.8 579.6 Q774 581 767 581 Q753 580.5 753 565 Z" fill="#fff"/>

<!-- logo -->
<g transform="translate(925,22) scale(0.07705)" stroke-linejoin="round">
<g fill="#ea7228" stroke="#23203a" stroke-width="10">
<polygon points="55,300 340,500 340,612 55,410"/>
<polygon points="345,500 545,372 545,450 345,612"/>
<polygon points="340,180 809,490 809,612 340,300"/>
<polygon points="809,500 1094,288 1094,380 809,612"/>
<polygon points="210,280 335,180 335,300 265,322"/>
<polygon points="690,288 809,185 809,300 760,330"/>
<polygon points="809,185 920,272 865,330 809,300"/>
</g>
<g fill="#2189d4" stroke="#2189d4" stroke-width="5">
<polygon points="65,290 340,65 335,172 205,282"/>
<polygon points="65,290 205,282 340,388 340,497"/>
<polygon points="340,497 340,388 420,338 472,400"/>
<polygon points="340,65 684,284 809,388 809,492 335,172"/>
<polygon points="609,228 799,62 809,168 684,284"/>
<polygon points="799,62 1079,270 929,266 809,168"/>
<polygon points="1079,270 809,492 809,388 929,266"/>
</g>
<path d="M603 226 L688 288" stroke="#1f2a4a" stroke-width="10" fill="none"/>
</g>
<text transform="translate(1019.45,56.6) scale(1.0376,1.0000)" font-family="Liberation Serif, sans-serif" font-weight="normal" font-size="46.7" fill="#2c8fd3" stroke="#2b2e4a" stroke-width="0.55">P</text>
<text transform="translate(1045.27,56.6) scale(1.0531,0.8700)" font-family="Liberation Serif, sans-serif" font-weight="normal" font-size="46.7" fill="#2c8fd3" stroke="#2b2e4a" stroke-width="0.55">r</text>
<text transform="translate(1060.15,56.6) scale(1.0987,0.8700)" font-family="Liberation Serif, sans-serif" font-weight="normal" font-size="46.7" fill="#2c8fd3" stroke="#2b2e4a" stroke-width="0.55">o</text>
<text transform="translate(1084.63,56.6) scale(0.9601,0.9500)" font-family="Liberation Serif, sans-serif" font-weight="normal" font-size="46.7" fill="#2c8fd3" stroke="#2b2e4a" stroke-width="0.55">d</text>
<text transform="translate(1111.29,56.6) scale(0.6513,0.9500)" font-family="Liberation Serif, sans-serif" font-weight="normal" font-size="46.7" fill="#2c8fd3" stroke="#2b2e4a" stroke-width="0.55">i</text>
<text transform="translate(1119.49,56.6) scale(1.0042,0.9200)" font-family="Liberation Serif, sans-serif" font-weight="normal" font-size="46.7" fill="#2c8fd3" stroke="#2b2e4a" stroke-width="0.55">g</text>
<text transform="translate(1144.86,56.6) scale(0.9316,0.9200)" font-family="Liberation Serif, sans-serif" font-weight="normal" font-size="46.7" fill="#2c8fd3" stroke="#2b2e4a" stroke-width="0.55">y</text>
<line x1="1020.6" y1="59.9" x2="1121.6" y2="59.9" stroke="#e07d4e" stroke-width="1.8"/>
<line x1="1159.5" y1="59.9" x2="1167.7" y2="59.9" stroke="#e07d4e" stroke-width="1.8"/>
<text transform="translate(1020.02,71.6) scale(0.6807,1.0000)" font-family="Liberation Sans, sans-serif" font-weight="bold" font-size="12.2" fill="#f4f4fa" stroke="#f4f4fa" stroke-width="0.35">T</text>
<text transform="translate(1027.29,71.6) scale(0.5223,1.0000)" font-family="Liberation Sans, sans-serif" font-weight="bold" font-size="12.2" fill="#f4f4fa" stroke="#f4f4fa" stroke-width="0.35">E</text>
<text transform="translate(1034.22,71.6) scale(0.5756,1.0000)" font-family="Liberation Sans, sans-serif" font-weight="bold" font-size="12.2" fill="#f4f4fa" stroke="#f4f4fa" stroke-width="0.35">C</text>
<text transform="translate(1041.23,71.6) scale(0.7224,1.0000)" font-family="Liberation Sans, sans-serif" font-weight="bold" font-size="12.2" fill="#f4f4fa" stroke="#f4f4fa" stroke-width="0.35">H</text>
<text transform="translate(1050.46,71.6) scale(0.6807,1.0000)" font-family="Liberation Sans, sans-serif" font-weight="bold" font-size="12.2" fill="#f4f4fa" stroke="#f4f4fa" stroke-width="0.35">N</text>
<text transform="translate(1059.76,71.6) scale(0.4953,1.0000)" font-family="Liberation Sans, sans-serif" font-weight="bold" font-size="12.2" fill="#f4f4fa" stroke="#f4f4fa" stroke-width="0.35">O</text>
<text transform="translate(1067.72,71.6) scale(0.6557,1.0000)" font-family="Liberation Sans, sans-serif" font-weight="bold" font-size="12.2" fill="#f4f4fa" stroke="#f4f4fa" stroke-width="0.35">V</text>
<text transform="translate(1076.18,71.6) scale(0.7096,1.0000)" font-family="Liberation Sans, sans-serif" font-weight="bold" font-size="12.2" fill="#f4f4fa" stroke="#f4f4fa" stroke-width="0.35">A</text>
<text transform="translate(1084.81,71.6) scale(0.7502,1.0000)" font-family="Liberation Sans, sans-serif" font-weight="bold" font-size="12.2" fill="#f4f4fa" stroke="#f4f4fa" stroke-width="0.35">T</text>
<text transform="translate(1091.78,71.6) scale(0.9045,1.0000)" font-family="Liberation Sans, sans-serif" font-weight="bold" font-size="12.2" fill="#f4f4fa" stroke="#f4f4fa" stroke-width="0.35">I</text>
<text transform="translate(1097.59,71.6) scale(0.6369,1.0000)" font-family="Liberation Sans, sans-serif" font-weight="bold" font-size="12.2" fill="#f4f4fa" stroke="#f4f4fa" stroke-width="0.35">O</text>
<text transform="translate(1106.56,71.6) scale(0.6807,1.0000)" font-family="Liberation Sans, sans-serif" font-weight="bold" font-size="12.2" fill="#f4f4fa" stroke="#f4f4fa" stroke-width="0.35">N</text>
<text transform="translate(1114.46,71.6) scale(0.6694,1.0000)" font-family="Liberation Sans, sans-serif" font-weight="bold" font-size="12.2" fill="#f4f4fa" stroke="#f4f4fa" stroke-width="0.35">S</text>
</svg>
</body></html>
